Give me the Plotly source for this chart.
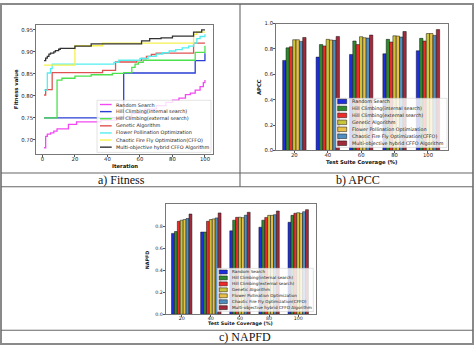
import plotly.graph_objects as go

W, H = 474, 348

# ---------------- data ----------------
series_names = [
    "Random Search",
    "Hill Climbing(internal search)",
    "Hill Climbing(external search)",
    "Genetic Algorithm",
    "Flower Pollination Optimization",
    "Chaotic Fire Fly Optimization(CFFO)",
    "Multi-objective hybrid CFFO Algorithm",
]

# Fitness curves: iteration where the value changes, and the value from there on
rs_iter = [1, 2, 3, 5, 7, 9, 16, 21, 36, 46, 55, 63, 70, 76, 80, 84, 88, 91, 94, 97, 99, 100]
rs_fit = [0.682, 0.708, 0.713, 0.716, 0.720, 0.725, 0.735, 0.741, 0.745, 0.750, 0.760, 0.770,
          0.778, 0.785, 0.790, 0.795, 0.803, 0.806, 0.813, 0.821, 0.830, 0.836]
hci_iter = [1, 50, 94, 100]
hci_fit = [0.750, 0.852, 0.880, 0.897]
hce_iter = [1, 9, 12, 20, 30, 43, 50, 55, 57, 59, 62, 94, 100]
hce_fit = [0.750, 0.836, 0.840, 0.845, 0.848, 0.851, 0.853, 0.865, 0.872, 0.876, 0.881, 0.899, 0.914]
ga_iter = [1, 2, 6, 37, 45, 58, 61, 64, 67, 70, 93, 100]
ga_fit = [0.802, 0.814, 0.853, 0.858, 0.877, 0.880, 0.885, 0.890, 0.894, 0.897, 0.920, 0.920]
fpo_iter = [1, 3, 5, 6, 44, 47, 60, 65, 70, 74, 78, 82, 86, 90, 93, 95, 97, 100]
fpo_fit = [0.813, 0.852, 0.862, 0.872, 0.876, 0.881, 0.885, 0.890, 0.895, 0.898, 0.902, 0.905,
           0.909, 0.913, 0.920, 0.930, 0.935, 0.940]
cffo_iter = [1, 20, 37, 93, 95, 100]
cffo_fit = [0.870, 0.914, 0.920, 0.940, 0.945, 0.945]
moh_iter = [1, 2, 3, 4, 5, 7, 8, 10, 11, 20, 30, 61, 66, 73, 80, 93, 98, 100]
moh_fit = [0.880, 0.886, 0.890, 0.895, 0.897, 0.900, 0.903, 0.906, 0.908, 0.913, 0.918, 0.925,
           0.930, 0.932, 0.936, 0.945, 0.950, 0.950]

coverage = [20, 40, 60, 80, 100]
apcc_rs = [0.710, 0.736, 0.757, 0.762, 0.786]
apcc_hci = [0.809, 0.835, 0.863, 0.876, 0.884]
apcc_hce = [0.817, 0.824, 0.835, 0.855, 0.863]
apcc_ga = [0.873, 0.876, 0.897, 0.904, 0.922]
apcc_fpo = [0.873, 0.871, 0.889, 0.902, 0.922]
apcc_cffo = [0.860, 0.868, 0.886, 0.894, 0.907]
apcc_moh = [0.891, 0.899, 0.910, 0.938, 0.953]

napfd_rs = [0.735, 0.747, 0.758, 0.791, 0.836]
napfd_hci = [0.752, 0.747, 0.855, 0.855, 0.899]
napfd_hce = [0.845, 0.845, 0.881, 0.880, 0.918]
napfd_ga = [0.855, 0.861, 0.882, 0.899, 0.923]
napfd_fpo = [0.861, 0.867, 0.878, 0.899, 0.917]
napfd_cffo = [0.870, 0.876, 0.900, 0.905, 0.932]
napfd_moh = [0.911, 0.921, 0.927, 0.939, 0.951]

fitness_iters = [rs_iter, hci_iter, hce_iter, ga_iter, fpo_iter, cffo_iter, moh_iter]
fitness_vals = [rs_fit, hci_fit, hce_fit, ga_fit, fpo_fit, cffo_fit, moh_fit]
apcc_vals = [apcc_rs, apcc_hci, apcc_hce, apcc_ga, apcc_fpo, apcc_cffo, apcc_moh]
napfd_vals = [napfd_rs, napfd_hci, napfd_hce, napfd_ga, napfd_fpo, napfd_cffo, napfd_moh]

captions = ["a) Fitness", "b) APCC", "c) NAPFD"]

# ---------------- styles ----------------
line_colors = ["#f24af2", "#2b3fd4", "#4be24b", "#e05252", "#52eeee", "#f5f24e", "#333333"]
bar_colors = ["#1f2fe0", "#2f8a2f", "#ee2a2a", "#c9c43a", "#e8c048", "#4f8fc0", "#a32a3a"]

def px(x):
    return x / W

def py(y):
    return 1 - y / H

fig = go.Figure()

for i, name in enumerate(series_names):
    fig.add_trace(go.Scatter(
        x=fitness_iters[i], y=fitness_vals[i], mode="lines", line_shape="hv",
        line=dict(color=line_colors[i], width=1.3), name=name,
        xaxis="x", yaxis="y", showlegend=False))

for i, name in enumerate(series_names):
    fig.add_trace(go.Bar(
        x=coverage, y=apcc_vals[i], name=name, marker_color=bar_colors[i],
        marker_line=dict(color="#111", width=0.5), offsetgroup=str(i),
        xaxis="x2", yaxis="y2", showlegend=False))

for i, name in enumerate(series_names):
    fig.add_trace(go.Bar(
        x=coverage, y=napfd_vals[i], name=name, marker_color=bar_colors[i],
        marker_line=dict(color="#111", width=0.5), offsetgroup=str(i),
        xaxis="x3", yaxis="y3", showlegend=False))

tick_font = dict(family="DejaVu Sans", size=5.3, color="#222")
small_font = dict(family="DejaVu Sans", size=4.8, color="#222")
axis_common = dict(showline=True, mirror=True, linecolor="#777", linewidth=0.8,
                   ticks="outside", ticklen=2, tickwidth=0.6, tickcolor="#555",
                   showgrid=False, zeroline=False)

fig.update_layout(
    width=W, height=H, margin=dict(l=0, r=0, t=0, b=0),
    paper_bgcolor="white", plot_bgcolor="white",
    barmode="group", bargap=0.3, bargroupgap=0,
    xaxis=dict(domain=[px(36), px(213)], range=[-3.95, 104.95],
               tickvals=[0, 20, 40, 60, 80, 100], anchor="y", tickfont=tick_font,
               ticklabelstandoff=-3, **axis_common),
    yaxis=dict(domain=[py(154), py(22)], range=[0.667, 0.962],
               tickvals=[0.70, 0.75, 0.80, 0.85, 0.90, 0.95], tickformat=".2f",
               anchor="x", tickfont=tick_font, ticklabelstandoff=-1, **axis_common),
    xaxis2=dict(domain=[px(276), px(448)], range=[9, 112],
                tickvals=coverage, anchor="y2", tickfont=tick_font,
                ticklabelstandoff=-3, **axis_common),
    yaxis2=dict(domain=[py(150), py(21)], range=[0, 1.0],
                tickvals=[0, 0.2, 0.4, 0.6, 0.8, 1.0], tickformat=".1f",
                anchor="x2", tickfont=tick_font, ticklabelstandoff=-1, **axis_common),
    xaxis3=dict(domain=[px(165.7), px(315.7)], range=[9, 112],
                tickvals=coverage, anchor="y3", tickfont=small_font,
                ticklabelstandoff=-3, **axis_common),
    yaxis3=dict(domain=[py(316.7), py(205)], range=[0, 0.998],
                tickvals=[0, 0.2, 0.4, 0.6, 0.8], tickformat=".1f",
                anchor="x3", tickfont=small_font, ticklabelstandoff=-1, **axis_common),
)

shapes = []
annotations = []

# table borders
shapes.append(dict(type="rect", xref="paper", yref="paper", x0=px(1), x1=px(473), y0=py(347), y1=py(1),
                   line=dict(color="#8a8a8a", width=2), layer="above"))
for yy in [173, 187, 333]:
    shapes.append(dict(type="line", xref="paper", yref="paper", x0=px(1), x1=px(473), y0=py(yy), y1=py(yy),
                       line=dict(color="#666", width=1.1), layer="above"))
shapes.append(dict(type="line", xref="paper", yref="paper", x0=px(240), x1=px(240), y0=py(187), y1=py(1),
                   line=dict(color="#666", width=1.1), layer="above"))

cap_font = dict(family="Liberation Serif", size=12, color="#111")
annotations.append(dict(text=captions[0], x=px(121), y=py(180.5), xref="paper", yref="paper",
                        showarrow=False, font=cap_font, xanchor="center", yanchor="middle"))
annotations.append(dict(text=captions[1], x=px(358), y=py(180.5), xref="paper", yref="paper",
                        showarrow=False, font=cap_font, xanchor="center", yanchor="middle"))
annotations.append(dict(text=captions[2], x=px(245), y=py(340), xref="paper", yref="paper",
                        showarrow=False, font=cap_font, xanchor="center", yanchor="middle"))

# axis titles
def axis_title(text, x, y, size, angle=0):
    annotations.append(dict(text="<b>" + text + "</b>", x=px(x), y=py(y), xref="paper", yref="paper",
                            showarrow=False, textangle=angle,
                            font=dict(family="DejaVu Sans", size=size, color="#111"),
                            xanchor="center", yanchor="middle"))

axis_title("Iteration", 124.5, 166.2, 5.3)
axis_title("Fitness value", 16.7, 88, 5.3, -90)
axis_title("Test Suite Coverage (%)", 362, 162.8, 5.3)
axis_title("APCC", 259, 85.5, 5.3, -90)
axis_title("Test Suite Coverage (%)", 240.7, 326.5, 4.8)
axis_title("NAPFD", 147.7, 261, 4.8, -90)

# legends (drawn by hand so that they are as compact as in the reference)
def legend(box, first_y, step, sw_x0, sw_x1, text_x, size, kind):
    bx0, by0, bx1, by1 = box
    shapes.append(dict(type="rect", xref="paper", yref="paper", x0=px(bx0), x1=px(bx1),
                       y0=py(by1), y1=py(by0), fillcolor="rgba(255,255,255,0.82)",
                       line=dict(color="#d0d0d0", width=0.6), layer="above"))
    for i, name in enumerate(series_names):
        yc = first_y + i * step
        if kind == "line":
            shapes.append(dict(type="line", xref="paper", yref="paper", x0=px(sw_x0), x1=px(sw_x1),
                               y0=py(yc), y1=py(yc), line=dict(color=line_colors[i], width=1.4),
                               layer="above"))
        else:
            h = step * 0.33
            shapes.append(dict(type="rect", xref="paper", yref="paper", x0=px(sw_x0), x1=px(sw_x1),
                               y0=py(yc + h), y1=py(yc - h), fillcolor=bar_colors[i],
                               line=dict(color="#111", width=0.5), layer="above"))
        annotations.append(dict(text=name, x=px(text_x), y=py(yc), xref="paper", yref="paper",
                                showarrow=False, xanchor="left", yanchor="middle",
                                font=dict(family="DejaVu Sans", size=size, color="#222")))

legend((97, 99, 211, 152), 103.3, 7.23, 100, 111.7, 114, 4.9, "line")
legend((336, 97, 447, 147), 100.2, 7.08, 337.7, 346.7, 350, 4.8, "bar")
legend((217.3, 270, 313.3, 314), 273.7, 6.05, 219.3, 227.3, 229.5, 4.2, "bar")

fig.update_layout(shapes=shapes, annotations=annotations)

fig.write_html("out.html")
